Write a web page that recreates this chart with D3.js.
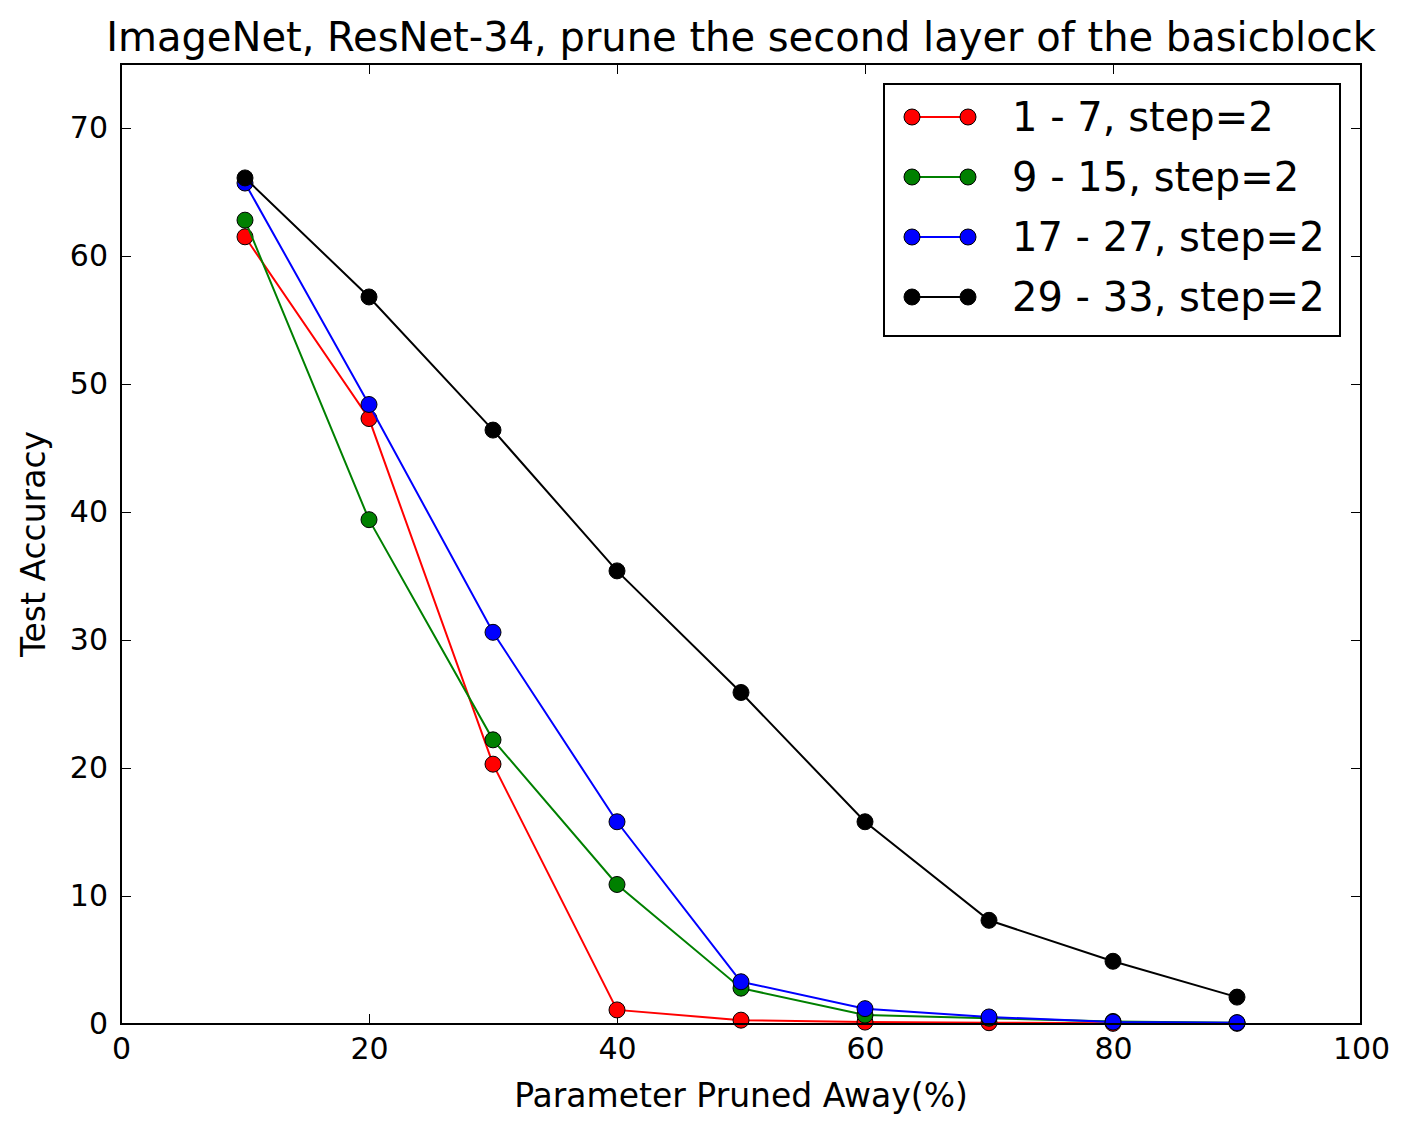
<!DOCTYPE html>
<html>
<head>
<meta charset="utf-8">
<script src="https://cdn.jsdelivr.net/npm/d3@7"></script>
<style>
  body { margin: 0; background: #fff; }
  svg text { font-family: "DejaVu Sans", sans-serif; fill: #000; }
</style>
</head>
<body>
<svg id="chart"></svg>
<script>
// Data
const pruned = [10, 20, 30, 40, 50, 60, 70, 80, 90];
const series1to7 = [61.5, 47.3, 20.3, 1.1, 0.3, 0.15, 0.1, 0.05, 0.05];
const series9to15 = [62.8, 39.4, 22.2, 10.9, 2.8, 0.7, 0.45, 0.2, 0.1];
const series17to27 = [65.7, 48.4, 30.6, 15.8, 3.3, 1.2, 0.55, 0.15, 0.1];
const series29to33 = [66.1, 56.8, 46.4, 35.4, 25.9, 15.8, 8.1, 4.9, 2.1];
const seriesNames = ["1 - 7, step=2", "9 - 15, step=2", "17 - 27, step=2", "29 - 33, step=2"];
const seriesColors = ["#ff0000", "#008000", "#0000ff", "#000000"];
const xTicks = [0, 20, 40, 60, 80, 100];
const yTicks = [0, 10, 20, 30, 40, 50, 60, 70];

const allSeries = [series1to7, series9to15, series17to27, series29to33];

// Dimensions
const W = 1412, H = 1135;
const margin = { top: 64, right: 51, bottom: 111, left: 121 };
const width = W - margin.left - margin.right;
const height = H - margin.top - margin.bottom;

const svg = d3.select("#chart")
    .attr("width", W)
    .attr("height", H);

const g = svg.append("g")
    .attr("transform", "translate(" + margin.left + "," + margin.top + ")");

// Scales
const x = d3.scaleLinear().domain([0, 100]).range([0, width]);
const y = d3.scaleLinear().domain([0, 75]).range([height, 0]);

// Axes (inward ticks, matplotlib classic look)
function styleAxis(sel) {
    sel.select(".domain").remove();
    sel.selectAll(".tick line").attr("stroke", "#000").attr("stroke-width", 1);
    sel.selectAll(".tick text").style("font-size", "30px");
}

g.append("g")
    .attr("transform", "translate(0," + height + ")")
    .call(d3.axisBottom(x).tickValues(xTicks).tickSizeInner(-10).tickSizeOuter(0).tickPadding(14))
    .call(styleAxis);

g.append("g")
    .call(d3.axisTop(x).tickValues(xTicks).tickSizeInner(-10).tickSizeOuter(0).tickFormat(""))
    .call(styleAxis);

g.append("g")
    .call(d3.axisLeft(y).tickValues(yTicks).tickSizeInner(-10).tickSizeOuter(0).tickPadding(13))
    .call(styleAxis);

g.append("g")
    .attr("transform", "translate(" + width + ",0)")
    .call(d3.axisRight(y).tickValues(yTicks).tickSizeInner(-10).tickSizeOuter(0).tickFormat(""))
    .call(styleAxis);

// Lines and markers
const line = d3.line()
    .x((d, i) => x(pruned[i]))
    .y(d => y(d));

allSeries.forEach(function(vals, k) {
    g.append("path")
        .datum(vals)
        .attr("fill", "none")
        .attr("stroke", seriesColors[k])
        .attr("stroke-width", 2)
        .attr("d", line);

    g.selectAll(".dot" + k)
        .data(vals)
        .enter().append("circle")
        .attr("cx", (d, i) => x(pruned[i]))
        .attr("cy", d => y(d))
        .attr("r", 8)
        .attr("fill", seriesColors[k])
        .attr("stroke", "#000")
        .attr("stroke-width", 1);
});

// Frame
g.append("rect")
    .attr("width", width)
    .attr("height", height)
    .attr("fill", "none")
    .attr("stroke", "#000")
    .attr("stroke-width", 2);

// Title and labels
svg.append("text")
    .attr("x", margin.left + width / 2)
    .attr("y", 51)
    .attr("text-anchor", "middle")
    .style("font-size", "40px")
    .text("ImageNet, ResNet-34, prune the second layer of the basicblock");

svg.append("text")
    .attr("x", margin.left + width / 2)
    .attr("y", 1107)
    .attr("text-anchor", "middle")
    .style("font-size", "33px")
    .text("Parameter Pruned Away(%)");

svg.append("text")
    .attr("transform", "rotate(-90)")
    .attr("x", -(margin.top + height / 2))
    .attr("y", 45)
    .attr("text-anchor", "middle")
    .style("font-size", "33px")
    .text("Test Accuracy");

// Legend
const legend = svg.append("g")
    .attr("transform", "translate(884,84)");

legend.append("rect")
    .attr("width", 456)
    .attr("height", 252)
    .attr("fill", "#fff")
    .attr("stroke", "#000")
    .attr("stroke-width", 2);

seriesNames.forEach(function(name, k) {
    const row = legend.append("g").attr("transform", "translate(0," + (33 + k * 60) + ")");
    row.append("line")
        .attr("x1", 28).attr("x2", 84)
        .attr("stroke", seriesColors[k])
        .attr("stroke-width", 2);
    [28, 84].forEach(function(cx) {
        row.append("circle")
            .attr("cx", cx)
            .attr("r", 8)
            .attr("fill", seriesColors[k])
            .attr("stroke", "#000")
            .attr("stroke-width", 1);
    });
    row.append("text")
        .attr("x", 128)
        .attr("dy", "0.35em")
        .style("font-size", "40px")
        .text(name);
});
</script>
</body>
</html>
